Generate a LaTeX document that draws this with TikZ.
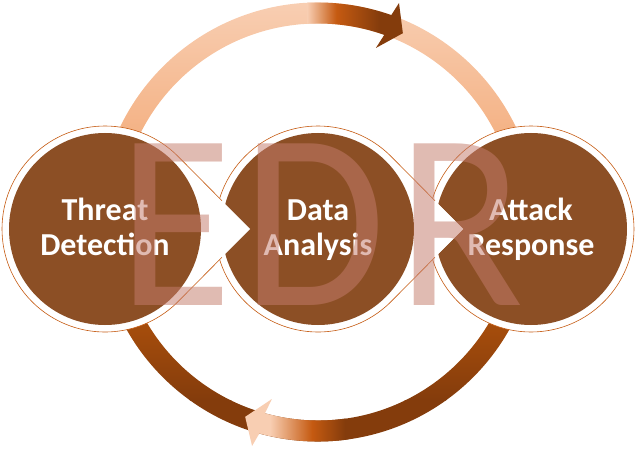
\documentclass[tikz,border=0pt]{standalone}
\usepackage{fontspec}
\setmainfont{Carlito}
\usetikzlibrary{calc}
\definecolor{pale}{HTML}{F8CEB2}
\definecolor{palelow}{HTML}{F4B183}
\definecolor{midor}{HTML}{C55A11}
\definecolor{deep}{HTML}{843C0C}
\definecolor{lowtop}{HTML}{A84E0C}
\definecolor{discfill}{HTML}{8C4F25}
\definecolor{letterc}{HTML}{C47C6C}
% horizontal gradients: bbox of the shaded rectangle maps on 25bp..75bp
\pgfdeclarehorizontalshading{topgrad}{100bp}{color(0bp)=(pale);color(25bp)=(pale);color(40bp)=(midor);color(62bp)=(deep);color(75bp)=(deep);color(100bp)=(deep)}
\pgfdeclarehorizontalshading{lowgrad}{100bp}{color(0bp)=(pale);color(25bp)=(pale);color(53bp)=(midor);color(75bp)=(deep);color(100bp)=(deep)}
\newcommand{\topline}{\rule{0pt}{25pt}}
\newcommand{\lowline}{\rule[-8pt]{0pt}{8pt}}
\tikzset{
  x=1pt,y=1pt,
  discnode/.style={circle,fill=discfill,text=white,inner sep=0pt,minimum size=192pt,align=center,
    font=\fontsize{32}{35}\bfseries\selectfont},
  haloline/.style={draw=midor,line width=0.6pt},
  halofill/.style={fill=white},
  bigletter/.style={anchor=base west,inner sep=0pt,text=letterc,text opacity=0.52,xscale=0.925,transform shape,font=\fontsize{252}{252}\selectfont}
}
\begin{document}
\begin{tikzpicture}
\useasboundingbox (0,0) rectangle (641,-452);
\coordinate (ring) at (318,-222);
% pale upper band
\begin{scope}
  \clip ($(ring)+(172:219.5)$) arc (172:8:219.5) -- ($(ring)+(8:198.5)$) arc (8:172:198.5) -- cycle;
  \shade[top color=pale,bottom color=palelow] (100,-3) rectangle (540,-140);
\end{scope}
% dark part of the upper arrow
\begin{scope}
  \clip ($(ring)+(94:219.5)$) arc (94:70.5:219.5) -- ($(ring)+(69.7:233.5)$) -- ($(ring)+(65.8:207)$) -- ($(ring)+(71.6:183.4)$) -- ($(ring)+(70.5:198.5)$) arc (70.5:94:198.5) -- cycle;
  \shade[shading=topgrad] (307,-1) rectangle (405,-50);
\end{scope}
% lower band
\begin{scope}
  \clip ($(ring)+(188:219.5)$) arc (188:352:219.5) -- ($(ring)+(352:198.5)$) arc (352:188:198.5) -- cycle;
  \shade[top color=lowtop,bottom color=deep] (100,-320) rectangle (540,-400);
  \fill[deep] (100,-399.5) rectangle (540,-450);
\end{scope}
% pale part of the lower arrow
\begin{scope}
  \clip ($(ring)+(278:219.5)$) arc (278:254.5:219.5) -- ($(ring)+(253.6:233.5)$) -- ($(ring)+(249.5:208)$) -- ($(ring)+(255.4:183)$) -- ($(ring)+(254.5:198.5)$) arc (254.5:278:198.5) -- cycle;
  \fill[pale] (240,-395) rectangle (270.5,-450);
  \shade[shading=lowgrad] (270,-395) rectangle (345,-450);
  \fill[deep] (344.5,-395) rectangle (352,-450);
\end{scope}
% right circle
\draw[haloline,halofill] (531,-229) circle (103);
\node[discnode] (attack) at (531,-229) {\topline Attack\\Response\lowline};
% middle circle with pointer
\coordinate (midc) at (318,-229);
\coordinate (midtip) at (463,-229);
\coordinate (midup) at ($(midc)+(44.7:103)$);
\coordinate (midlow) at ($(midc)+(-44.7:103)$);
\fill[halofill] (midtip) -- (midup) arc (44.7:315.3:103) -- cycle;
\draw[haloline] ($(midup)!0.61!(midtip)$) -- (midup) arc (44.7:315.3:103) -- ($(midlow)!0.61!(midtip)$);
\node[discnode] (data) at (midc) {\topline Data\\Analysis\lowline};
\fill[halofill] (midtip) -- ($(midup)!0.61!(midtip)$) -- ($(midlow)!0.61!(midtip)$) -- cycle;
% left circle with pointer
\coordinate (leftc) at (105,-229);
\coordinate (lefttip) at (250,-229);
\coordinate (leftup) at ($(leftc)+(44.7:103)$);
\coordinate (leftlow) at ($(leftc)+(-44.7:103)$);
\fill[halofill] (lefttip) -- (leftup) arc (44.7:315.3:103) -- cycle;
\draw[haloline] ($(leftup)!0.61!(lefttip)$) -- (leftup) arc (44.7:315.3:103) -- ($(leftlow)!0.61!(lefttip)$);
\node[discnode] (threat) at (leftc) {\topline Threat\\Detection\lowline};
% big translucent letters
\node[bigletter] (letterE) at (118,-305) {E};
\node[bigletter] (letterD) at (242,-305) {D};
\node[bigletter] (letterR) at (397,-305) {R};
\end{tikzpicture}
\end{document}
